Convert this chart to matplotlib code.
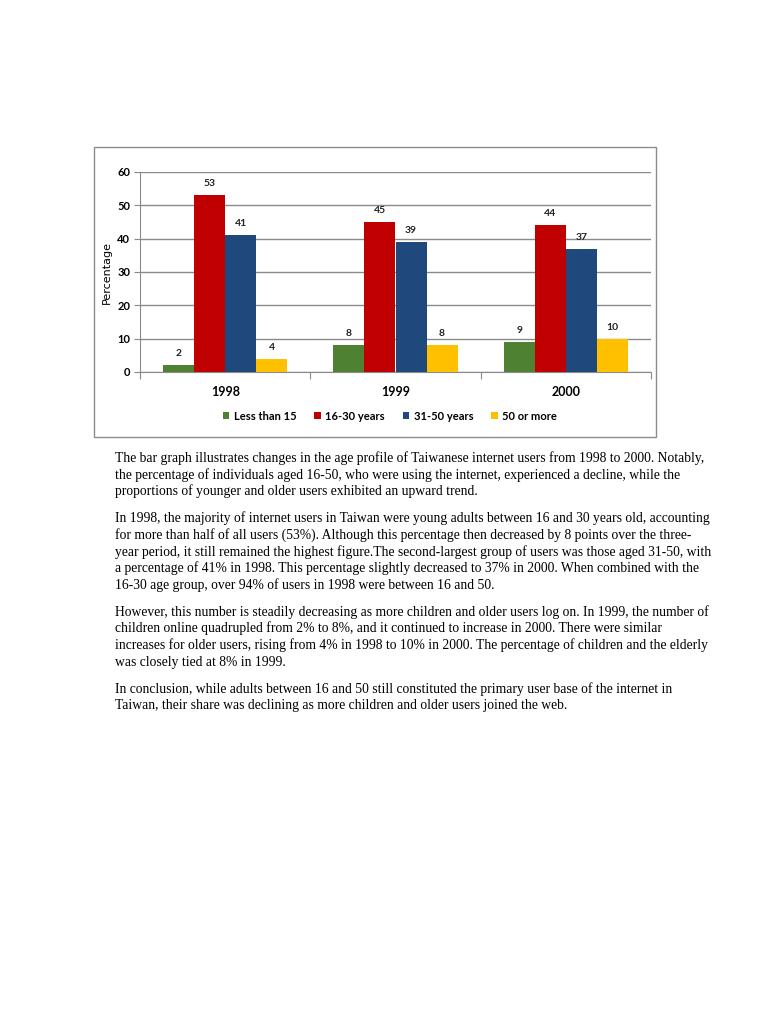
import numpy as np
import matplotlib.pyplot as plt
from matplotlib.patches import Rectangle

years = ["1998", "1999", "2000"]
groups = ["Less than 15", "16-30 years", "31-50 years", "50 or more"]
less_15 = [2, 8, 9]
age_16_30 = [53, 45, 44]
age_31_50 = [41, 39, 37]
over_50 = [4, 8, 10]
colors = ["#4f8132", "#c00000", "#1f497d", "#ffc000"]

paragraphs = [
    ["The bar graph illustrates changes in the age profile of Taiwanese internet users from 1998 to 2000. Notably,",
     "the percentage of individuals aged 16-50, who were using the internet, experienced a decline, while the",
     "proportions of younger and older users exhibited an upward trend."],
    ["In 1998, the majority of internet users in Taiwan were young adults between 16 and 30 years old, accounting",
     "for more than half of all users (53%). Although this percentage then decreased by 8 points over the three-",
     "year period, it still remained the highest figure.The second-largest group of users was those aged 31-50, with",
     "a percentage of 41% in 1998. This percentage slightly decreased to 37% in 2000. When combined with the",
     "16-30 age group, over 94% of users in 1998 were between 16 and 50."],
    ["However, this number is steadily decreasing as more children and older users log on. In 1999, the number of",
     "children online quadrupled from 2% to 8%, and it continued to increase in 2000. There were similar",
     "increases for older users, rising from 4% in 1998 to 10% in 2000. The percentage of children and the elderly",
     "was closely tied at 8% in 1999."],
    ["In conclusion, while adults between 16 and 50 still constituted the primary user base of the internet in",
     "Taiwan, their share was declining as more children and older users joined the web."],
]

W, H = 768, 1024
fig = plt.figure(figsize=(7.68, 10.24), dpi=100)
fig.patch.set_facecolor("white")

# chart frame
fig.patches.append(Rectangle((94 / W, 1 - 437 / H), 562 / W, 290 / H,
                             transform=fig.transFigure, fill=False,
                             edgecolor="#8c8c8c", linewidth=1))

ax = fig.add_axes([140 / W, 1 - 372 / H, 511 / W, 200 / H])
series = [less_15, age_16_30, age_31_50, over_50]
x = np.arange(len(years))
bw = 0.182
for i, (vals, name, c) in enumerate(zip(series, groups, colors)):
    pos = x + (i - 1.5) * bw
    bars = ax.bar(pos, vals, bw, color=c, label=name, zorder=3)
    for b, v in zip(bars, vals):
        ax.annotate(str(v), (b.get_x() + bw / 2, v), xytext=(0, 5),
                    textcoords="offset points", ha="center", va="bottom",
                    fontsize=7.5, fontweight="bold", family="Lato", color="#222222")

ax.set_ylim(0, 60)
ax.set_xlim(-0.5, 2.5)
ax.set_yticks(range(0, 61, 10))
ax.yaxis.grid(True, color="#8a8a8a", linewidth=1, zorder=0)
ax.set_axisbelow(True)
for s in ["top", "right"]:
    ax.spines[s].set_visible(False)
for s in ["left", "bottom"]:
    ax.spines[s].set_color("#8a8a8a")
ax.tick_params(axis="y", length=4, color="#8a8a8a", labelsize=8, pad=3)
for t in ax.get_yticklabels():
    t.set_family("Lato")
    t.set_fontweight("bold")

ax.set_xticks([-0.5, 0.5, 1.5, 2.5])
ax.set_xticklabels([])
ax.tick_params(axis="x", which="major", length=5, color="#8a8a8a")
ax.set_xticks(x, minor=True)
ax.set_xticklabels(years, minor=True, fontsize=9, fontweight="bold", family="Lato")
ax.tick_params(axis="x", which="minor", length=0, pad=10)

ax.set_ylabel("Percentage", fontsize=8, family="DejaVu Sans", labelpad=4)

fig.legend(loc="center", bbox_to_anchor=(390 / W, 1 - 416 / H), ncol=4,
           frameon=False, handlelength=0.6, handleheight=0.6, handletextpad=0.4,
           columnspacing=1.6, prop={"family": "Lato", "weight": "bold", "size": 8})

# body text
y = 458
for para in paragraphs:
    for line in para:
        fig.text(115 / W, 1 - y / H, line, fontsize=9.85, family="Liberation Serif",
                 va="center", ha="left", color="black")
        y += 16.8
    y += 9.7

fig.savefig("out.png", dpi=100)
